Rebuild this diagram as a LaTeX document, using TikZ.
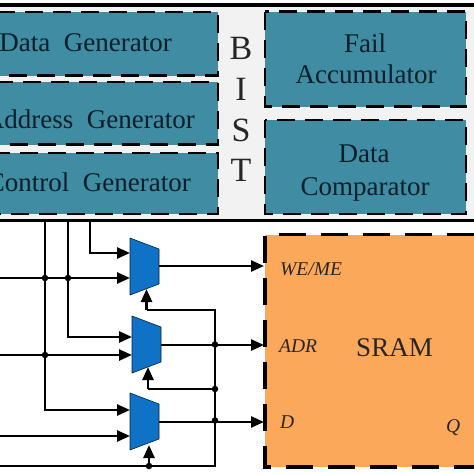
\documentclass[tikz,border=0pt]{standalone}
\usepackage{fontspec}
\setmainfont{Liberation Serif}
\usetikzlibrary{arrows.meta}
\definecolor{tealbox}{HTML}{3F8CA3}
\definecolor{sramfill}{HTML}{FBA85B}
\definecolor{muxfill}{HTML}{0F72C6}
\definecolor{panel}{HTML}{F2F2F2}
\definecolor{inktext}{HTML}{0A1F2A}
\tikzset{
  x=1pt,y=-1pt,
  rail/.style={line width=3.2pt,black},
  blockbox/.style={fill=tealbox,draw=black,line width=2.8pt,dash pattern=on 18pt off 10pt},
  srambox/.style={fill=sramfill,draw=black,line width=3.2pt,dash pattern=on 27pt off 15pt},
  muxbody/.style={fill=muxfill,draw=black!70!muxfill,line width=0.6pt},
  wire/.style={line width=2.5pt,black},
  arrowwire/.style={wire,-{Triangle[length=13pt,width=11pt]}},
  joint/.style={circle,fill=black,inner sep=0pt,minimum size=6.5pt},
  blocklabel/.style={font=\fontsize{27}{30}\selectfont,text=inktext,inner sep=0pt},
  bistlabel/.style={font=\fontsize{34}{36}\selectfont,text=black!85,inner sep=0pt,anchor=base},
  portlabel/.style={font=\fontsize{19.5}{22}\selectfont\itshape,text=black!85,inner sep=0pt,anchor=base west},
  sramlabel/.style={font=\fontsize{27}{30}\selectfont,text=black!85,inner sep=0pt,anchor=base}
}
\begin{document}
\begin{tikzpicture}
\useasboundingbox (0,0) rectangle (474,474);
\fill[white] (0,0) rectangle (474,474);
\fill[panel] (0,5) rectangle (474,220);
\draw[rail] (0,5) -- (474,5);
\draw[rail] (0,220.5) -- (474,220.5);
% BIST blocks
\path[blockbox] (-12,12) rectangle (218,75.5);
\path[blockbox] (-12,82) rectangle (218,144.5);
\path[blockbox] (-12,153) rectangle (218,214);
\path[blockbox] (265,11.5) rectangle (466,106.5);
\path[blockbox] (265,120) rectangle (466,214);
\node[blocklabel,anchor=base east] (datagen) at (172,51) {Data\ \ Generator};
\node[blocklabel,anchor=base east] (addrgen) at (195,128) {Address\ \ Generator};
\node[blocklabel,anchor=base east] (ctrlgen) at (191,191) {Control\ \ Generator};
\node[blocklabel,anchor=base] (fail) at (365,52) {Fail};
\node[blocklabel,anchor=base] (accum) at (366,83) {Accumulator};
\node[blocklabel,anchor=base] (datac) at (364,162) {Data};
\node[blocklabel,anchor=base] (comp) at (365,195) {Comparator};
\node[bistlabel] (bistb) at (241,59) {B};
\node[bistlabel] (bisti) at (241,100) {I};
\node[bistlabel] (bists) at (241,141) {S};
\node[bistlabel] (bistt) at (241,181) {T};
% SRAM
\fill[sramfill] (265,234.5) rectangle (474,467);
\draw[srambox,fill=none] (474,234.5) -- (265,234.5) -- (265,467) -- (474,467);
\node[portlabel] (we) at (280,275) {WE/ME};
\node[portlabel] (adr) at (279,352) {ADR};
\node[portlabel] (dport) at (280,428) {D};
\node[portlabel] (qport) at (446,432) {Q};
\node[sramlabel] (sram) at (394.5,356) {SRAM};
% named points
\coordinate (t1) at (45,221); \coordinate (t2) at (68,221); \coordinate (t3) at (90,221);
\coordinate (in1b) at (0,278); \coordinate (in2b) at (0,355); \coordinate (in3b) at (0,436);
\coordinate (bot) at (0,466); \coordinate (botr) at (215,466);
\coordinate (m1a) at (130,253); \coordinate (m1b) at (130,278);
\coordinate (m2a) at (132,337); \coordinate (m2b) at (132,355);
\coordinate (m3a) at (130,410); \coordinate (m3b) at (130,436);
\coordinate (m1s) at (146.5,289); \coordinate (m2s) at (148,367); \coordinate (m3s) at (149,445);
\coordinate (m1o) at (159,266); \coordinate (m2o) at (161,345); \coordinate (m3o) at (159,422);
\coordinate (p1) at (264,266); \coordinate (p2) at (264,345); \coordinate (p3) at (264,422);
\coordinate (selr1) at (215,310); \coordinate (sel1) at (146.5,310);
\coordinate (sel2) at (148,389);
% wires
\draw[arrowwire] (t3) |- (m1a);
\draw[arrowwire] (in1b) -- (m1b);
\draw[arrowwire] (t2) |- (m2a);
\draw[arrowwire] (in2b) -- (m2b);
\draw[arrowwire] (t1) |- (m3a);
\draw[arrowwire] (in3b) -- (m3b);
\draw[wire] (bot) -- (botr) -- (selr1) -- (sel1);
\draw[arrowwire] (sel1) -- (m1s);
\node[joint] (j5) at (215,389) {};
\draw[wire] (j5) -- (sel2);
\draw[arrowwire] (sel2) -- (m2s);
\node[joint] (j6) at (149,466) {};
\draw[arrowwire] (j6) -- (m3s);
\draw[arrowwire] (m1o) -- (p1);
\draw[arrowwire] (m2o) -- (p2);
\draw[arrowwire] (m3o) -- (p3);
\node[joint] (j1) at (45,278) {};
\node[joint] (j2) at (68,278) {};
\node[joint] (j3) at (45,355) {};
\node[joint] (j4) at (215,344.5) {};
\node[joint] (j7) at (215,420.5) {};
% muxes
\path[muxbody] (130,238) -- (159,249) -- (159,284) -- (130,295) -- cycle;
\path[muxbody] (132,316) -- (161,327) -- (161,362) -- (132,373) -- cycle;
\path[muxbody] (130,393) -- (159,404) -- (159,439) -- (130,450) -- cycle;
\end{tikzpicture}
\end{document}
